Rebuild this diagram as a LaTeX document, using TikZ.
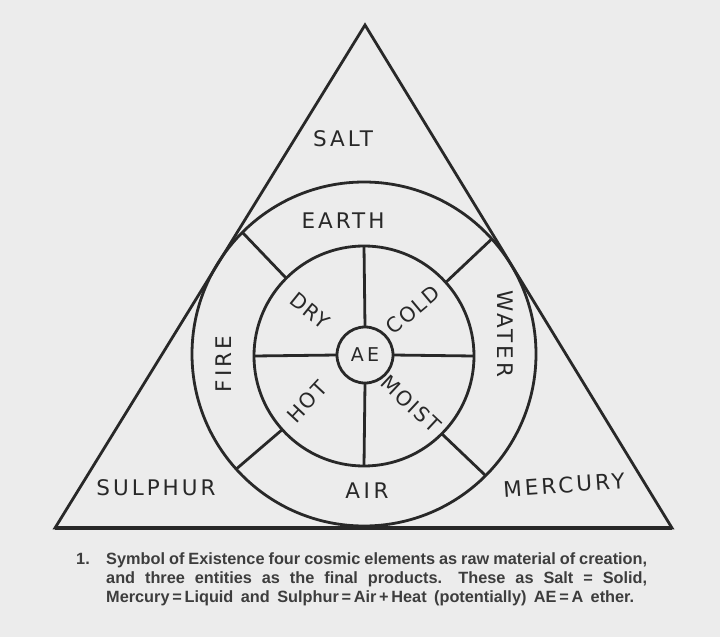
\documentclass[tikz,border=0pt]{standalone}
\usepackage{fontspec}
\setmainfont{Liberation Sans}
\newfontfamily\labfont[LetterSpace=14]{DejaVu Sans}
\newfontfamily\innerfont[LetterSpace=8]{DejaVu Sans}
\usetikzlibrary{calc}
\definecolor{paper}{RGB}{236,236,236}
\definecolor{ink}{RGB}{40,40,40}
\begin{document}
\begin{tikzpicture}[x=1pt,y=-1pt,
  ln/.style={draw=ink,line width=2.8pt},
  ring/.style={circle,draw=ink,line width=2.8pt,inner sep=0pt,outer sep=0pt},
  lab/.style={font=\labfont\fontsize{21.5}{21.5}\selectfont,text=ink,inner sep=0pt},
  inlab/.style={font=\innerfont\fontsize{20.5}{20.5}\selectfont,text=ink,inner sep=0pt},
  caption/.style={font=\bfseries\fontsize{16.3}{16.3}\selectfont,text=ink!90,anchor=base west,inner sep=0pt}]
\fill[paper] (0,0) rectangle (720,637);
\useasboundingbox (0,0) rectangle (720,637);
% triangle
\coordinate (apex) at (365,25);
\coordinate (bl) at (55,528);
\coordinate (br) at (672,528);
\draw[ln,line join=miter] (apex) -- (br) -- (bl) -- cycle;
\draw[ln,line width=3.8pt] (bl) -- (br);
% circles
\node[ring,minimum size=344pt] (outer) at (364,354) {};
\node[ring,minimum size=220pt] (inner) at (364,356) {};
\node[ring,minimum size=56pt] (ae) at (365,355) {};
% spokes
\draw[ln] (inner.north) -- (ae.north);
\draw[ln] (ae.south) -- (inner.south);
\draw[ln] (inner.west) -- (ae.west);
\draw[ln] (ae.east) -- (inner.east);
\draw[ln] (inner.135) -- (outer.135);
\draw[ln] (inner.42) -- (outer.42);
\draw[ln] (inner.222) -- (outer.222);
\draw[ln] (inner.-45) -- (outer.-45);
% labels
\node[lab] (salt) at (343,139) {SALT};
\node[lab] (earth) at (343,221) {EARTH};
\node[lab,rotate=90] (fire) at (224,364) {FIRE};
\node[lab,rotate=-90] (water) at (505,334) {WATER};
\node[lab] (air) at (367,491) {A\,I\,R};
\node[lab] (sulphur) at (156,488) {SULPHUR};
\node[lab,rotate=4] (mercury) at (564,485) {MERCURY};
\node[inlab,rotate=-39] (dry) at (310,311) {DRY};
\node[inlab,rotate=40] (cold) at (413,310) {COLD};
\node[inlab,rotate=47] (hot) at (307,402) {HOT};
\node[inlab,rotate=-43] (moist) at (411,404) {MOIST};
\node[lab,font=\labfont\fontsize{19}{19}\selectfont] (aetext) at (365,355) {A\,E};
% caption
\node[caption] (num) at (76,564) {1.};
\node[caption] (c1) at (106,564) {\makebox[541pt][s]{Symbol of Existence four cosmic elements as raw material of creation,}};
\node[caption] (c2) at (106,583) {\makebox[541pt][s]{and three entities as the final products.\quad These as Salt = Solid,}};
\node[caption] (c3) at (106,602) {\makebox[528pt][s]{Mercury\,=\,Liquid and Sulphur\,=\,Air\,+\,Heat (potentially) AE\,=\,A ether.}};
\end{tikzpicture}
\end{document}
